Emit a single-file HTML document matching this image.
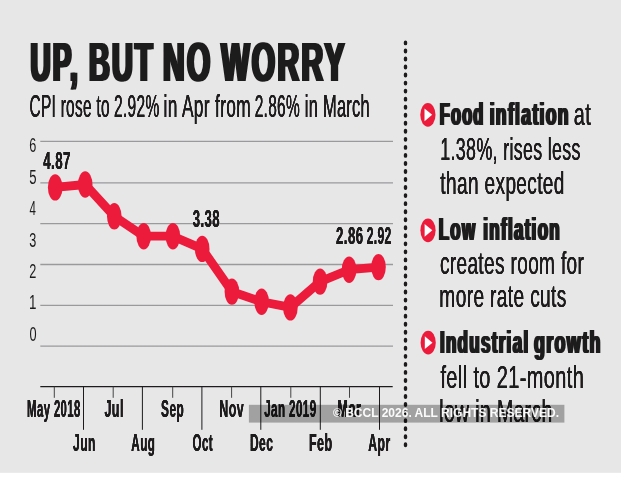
<!DOCTYPE html>
<html lang="en"><head><meta charset="utf-8"><title>Up, but no worry</title><style>html,body{margin:0;padding:0;background:#fff;}body{width:630px;height:480px;overflow:hidden;}svg{display:block;font-family:"Liberation Sans",sans-serif;}</style></head><body><svg width="630" height="480" viewBox="0 0 630 480">
<defs>
<filter id="hb15" x="-5%" y="-20%" width="110%" height="140%"><feOffset in="SourceGraphic" dx="1.5" result="a"/><feOffset in="SourceGraphic" dx="-1.5" result="b"/><feMerge><feMergeNode in="a"/><feMergeNode in="b"/><feMergeNode in="SourceGraphic"/></feMerge></filter>
<filter id="hb10" x="-5%" y="-20%" width="110%" height="140%"><feOffset in="SourceGraphic" dx="1.0" result="a"/><feOffset in="SourceGraphic" dx="-1.0" result="b"/><feMerge><feMergeNode in="a"/><feMergeNode in="b"/><feMergeNode in="SourceGraphic"/></feMerge></filter>
<filter id="hb8" x="-5%" y="-20%" width="110%" height="140%"><feOffset in="SourceGraphic" dx="0.8" result="a"/><feOffset in="SourceGraphic" dx="-0.8" result="b"/><feMerge><feMergeNode in="a"/><feMergeNode in="b"/><feMergeNode in="SourceGraphic"/></feMerge></filter>
<filter id="hb5" x="-5%" y="-20%" width="110%" height="140%"><feOffset in="SourceGraphic" dx="0.5" result="a"/><feOffset in="SourceGraphic" dx="-0.5" result="b"/><feMerge><feMergeNode in="a"/><feMergeNode in="b"/><feMergeNode in="SourceGraphic"/></feMerge></filter>
<filter id="hb4" x="-5%" y="-20%" width="110%" height="140%"><feOffset in="SourceGraphic" dx="0.25" result="a"/><feOffset in="SourceGraphic" dx="-0.25" result="b"/><feMerge><feMergeNode in="a"/><feMergeNode in="b"/><feMergeNode in="SourceGraphic"/></feMerge></filter>
<filter id="hb2" x="-5%" y="-20%" width="110%" height="140%"><feOffset in="SourceGraphic" dx="0.2" result="a"/><feOffset in="SourceGraphic" dx="-0.2" result="b"/><feMerge><feMergeNode in="a"/><feMergeNode in="b"/><feMergeNode in="SourceGraphic"/></feMerge></filter>
<filter id="hb3" x="-5%" y="-20%" width="110%" height="140%"><feOffset in="SourceGraphic" dx="0.3" result="a"/><feOffset in="SourceGraphic" dx="-0.3" result="b"/><feMerge><feMergeNode in="a"/><feMergeNode in="b"/><feMergeNode in="SourceGraphic"/></feMerge></filter>
</defs>
<rect x="0" y="0" width="630" height="480" fill="#fff"/>
<rect x="0" y="0" width="621" height="472.8" fill="#e7e7e8"/>
<line x1="40.3" y1="141.3" x2="393" y2="141.3" stroke="#9a9a9c" stroke-width="1.3"/>
<line x1="40.3" y1="182.8" x2="393" y2="182.8" stroke="#9a9a9c" stroke-width="1.3"/>
<line x1="40.3" y1="223.6" x2="393" y2="223.6" stroke="#9a9a9c" stroke-width="1.3"/>
<line x1="40.3" y1="264.5" x2="393" y2="264.5" stroke="#9a9a9c" stroke-width="1.3"/>
<line x1="40.3" y1="305.4" x2="393" y2="305.4" stroke="#9a9a9c" stroke-width="1.3"/>
<line x1="40.3" y1="346.2" x2="393" y2="346.2" stroke="#9a9a9c" stroke-width="1.3"/>
<line x1="40.3" y1="386.7" x2="392.7" y2="386.7" stroke="#1d1b1c" stroke-width="1.3"/>
<line x1="54.3" y1="386.7" x2="54.3" y2="397.8" stroke="#444" stroke-width="1"/>
<line x1="83.5" y1="386.7" x2="83.5" y2="429.8" stroke="#1d1b1c" stroke-width="1"/>
<line x1="113.2" y1="386.7" x2="113.2" y2="397.8" stroke="#444" stroke-width="1"/>
<line x1="142.4" y1="386.7" x2="142.4" y2="429.8" stroke="#1d1b1c" stroke-width="1"/>
<line x1="172.7" y1="386.7" x2="172.7" y2="397.8" stroke="#444" stroke-width="1"/>
<line x1="201.9" y1="386.7" x2="201.9" y2="429.8" stroke="#1d1b1c" stroke-width="1"/>
<line x1="231.6" y1="386.7" x2="231.6" y2="397.8" stroke="#444" stroke-width="1"/>
<line x1="260.8" y1="386.7" x2="260.8" y2="429.8" stroke="#1d1b1c" stroke-width="1"/>
<line x1="290.8" y1="386.7" x2="290.8" y2="397.8" stroke="#444" stroke-width="1"/>
<line x1="320.3" y1="386.7" x2="320.3" y2="429.8" stroke="#1d1b1c" stroke-width="1"/>
<line x1="349.5" y1="386.7" x2="349.5" y2="397.8" stroke="#444" stroke-width="1"/>
<line x1="379.5" y1="386.7" x2="379.5" y2="429.8" stroke="#1d1b1c" stroke-width="1"/>
<path d="M55.2,187.4 L85.2,184.5 L114.3,216.3 L143.7,236.2 L172.9,236.2 L202.2,248.9 L231.9,291.6 L261.6,301.7 L290.4,307.4 L320.1,281.6 L349.1,269.7 L378.5,267.1" fill="none" stroke="#ed1b3b" stroke-width="8.8" stroke-linejoin="round" stroke-linecap="round"/>
<ellipse cx="55.2" cy="187.4" rx="7.3" ry="13.2" fill="#ed1b3b"/>
<ellipse cx="85.2" cy="184.5" rx="7.3" ry="13.2" fill="#ed1b3b"/>
<ellipse cx="114.3" cy="216.3" rx="7.3" ry="13.2" fill="#ed1b3b"/>
<ellipse cx="143.7" cy="236.2" rx="7.3" ry="13.2" fill="#ed1b3b"/>
<ellipse cx="172.9" cy="236.2" rx="7.3" ry="13.2" fill="#ed1b3b"/>
<ellipse cx="202.2" cy="248.9" rx="7.3" ry="13.2" fill="#ed1b3b"/>
<ellipse cx="231.9" cy="291.6" rx="7.3" ry="13.2" fill="#ed1b3b"/>
<ellipse cx="261.6" cy="301.7" rx="7.3" ry="13.2" fill="#ed1b3b"/>
<ellipse cx="290.4" cy="307.4" rx="7.3" ry="13.2" fill="#ed1b3b"/>
<ellipse cx="320.1" cy="281.6" rx="7.3" ry="13.2" fill="#ed1b3b"/>
<ellipse cx="349.1" cy="269.7" rx="7.3" ry="13.2" fill="#ed1b3b"/>
<ellipse cx="378.5" cy="267.1" rx="7.3" ry="13.2" fill="#ed1b3b"/>
<line x1="405.5" y1="42.15" x2="405.5" y2="446" stroke="#1d1b1c" stroke-width="3.4" stroke-linecap="round" stroke-dasharray="1.5 6.537"/>
<ellipse cx="427.9" cy="114.8" rx="7.6" ry="11.9" fill="#ed1b3b"/><path d="M424.5,108.39999999999999 L432.2,114.8 L424.5,121.2 Z" fill="#fff"/>
<ellipse cx="428.0" cy="230.3" rx="7.6" ry="11.9" fill="#ed1b3b"/><path d="M424.6,223.9 L432.3,230.3 L424.6,236.70000000000002 Z" fill="#fff"/>
<ellipse cx="428.2" cy="342.7" rx="7.6" ry="11.9" fill="#ed1b3b"/><path d="M424.8,336.3 L432.5,342.7 L424.8,349.09999999999997 Z" fill="#fff"/>
<g opacity="0.999">
<text x="30.03" y="81.2" font-size="55.5" font-weight="bold" fill="#1d1b1c" textLength="49.48" lengthAdjust="spacingAndGlyphs" filter="url(#hb15)" letter-spacing="4.41">UP,</text>
<text x="88.49" y="81.2" font-size="55.5" font-weight="bold" fill="#1d1b1c" textLength="65.95" lengthAdjust="spacingAndGlyphs" filter="url(#hb15)" letter-spacing="4.41">BUT</text>
<text x="162.46" y="81.2" font-size="55.5" font-weight="bold" fill="#1d1b1c" textLength="49.51" lengthAdjust="spacingAndGlyphs" filter="url(#hb15)" letter-spacing="4.41">NO</text>
<text x="220.68" y="81.2" font-size="55.5" font-weight="bold" fill="#1d1b1c" textLength="125.68" lengthAdjust="spacingAndGlyphs" filter="url(#hb15)" letter-spacing="4.41">WORRY</text>
<text x="29.52" y="117.2" font-size="31.2" font-weight="normal" fill="#1d1b1c" textLength="80.34" lengthAdjust="spacingAndGlyphs" filter="url(#hb2)" letter-spacing="0.59">CPI rose to</text>
<text x="114.06" y="117.2" font-size="31.2" font-weight="normal" fill="#1d1b1c" textLength="45.41" lengthAdjust="spacingAndGlyphs" filter="url(#hb2)" letter-spacing="0.59">2.92%</text>
<text x="163.62" y="117.2" font-size="31.2" font-weight="normal" fill="#1d1b1c" textLength="87.43" lengthAdjust="spacingAndGlyphs" filter="url(#hb2)" letter-spacing="0.59">in Apr from</text>
<text x="254.73" y="117.2" font-size="31.2" font-weight="normal" fill="#1d1b1c" textLength="45.33" lengthAdjust="spacingAndGlyphs" filter="url(#hb2)" letter-spacing="0.59">2.86%</text>
<text x="304.73" y="117.2" font-size="31.2" font-weight="normal" fill="#1d1b1c" textLength="65.27" lengthAdjust="spacingAndGlyphs" filter="url(#hb2)" letter-spacing="0.59">in March</text>
<text x="29.13" y="152.2" font-size="20" font-weight="normal" fill="#1d1b1c" textLength="7.04" lengthAdjust="spacingAndGlyphs">6</text>
<text x="29.23" y="183.6" font-size="20" font-weight="normal" fill="#1d1b1c" textLength="7.31" lengthAdjust="spacingAndGlyphs">5</text>
<text x="29.59" y="215" font-size="20" font-weight="normal" fill="#1d1b1c" textLength="6.40" lengthAdjust="spacingAndGlyphs">4</text>
<text x="29.19" y="246.5" font-size="20" font-weight="normal" fill="#1d1b1c" textLength="7.02" lengthAdjust="spacingAndGlyphs">3</text>
<text x="29.17" y="277.9" font-size="20" font-weight="normal" fill="#1d1b1c" textLength="7.06" lengthAdjust="spacingAndGlyphs">2</text>
<text x="28.88" y="309.4" font-size="20" font-weight="normal" fill="#1d1b1c" textLength="7.43" lengthAdjust="spacingAndGlyphs">1</text>
<text x="29.43" y="340.8" font-size="20" font-weight="normal" fill="#1d1b1c" textLength="7.08" lengthAdjust="spacingAndGlyphs">0</text>
<text x="27.12" y="416.9" font-size="23.6" font-weight="bold" fill="#1d1b1c" textLength="53.61" lengthAdjust="spacingAndGlyphs" filter="url(#hb3)" letter-spacing="0.88">May 2018</text>
<text x="104.45" y="416.9" font-size="23.6" font-weight="bold" fill="#1d1b1c" textLength="19.39" lengthAdjust="spacingAndGlyphs" filter="url(#hb3)" letter-spacing="0.88">Jul</text>
<text x="161.04" y="416.9" font-size="23.6" font-weight="bold" fill="#1d1b1c" textLength="23.06" lengthAdjust="spacingAndGlyphs" filter="url(#hb3)" letter-spacing="0.88">Sep</text>
<text x="219.30" y="416.9" font-size="23.6" font-weight="bold" fill="#1d1b1c" textLength="24.79" lengthAdjust="spacingAndGlyphs" filter="url(#hb3)" letter-spacing="0.88">Nov</text>
<text x="264.18" y="416.9" font-size="23.6" font-weight="bold" fill="#1d1b1c" textLength="52.39" lengthAdjust="spacingAndGlyphs" filter="url(#hb3)" letter-spacing="0.88">Jan 2019</text>
<text x="337.37" y="416.9" font-size="23.6" font-weight="bold" fill="#1d1b1c" textLength="24.08" lengthAdjust="spacingAndGlyphs" filter="url(#hb3)" letter-spacing="0.88">Mar</text>
<text x="73.00" y="451.2" font-size="23.4" font-weight="bold" fill="#1d1b1c" textLength="22.74" lengthAdjust="spacingAndGlyphs" filter="url(#hb3)" letter-spacing="0.88">Jun</text>
<text x="131.33" y="451.2" font-size="23.4" font-weight="bold" fill="#1d1b1c" textLength="24.00" lengthAdjust="spacingAndGlyphs" filter="url(#hb3)" letter-spacing="0.88">Aug</text>
<text x="192.50" y="451.2" font-size="23.4" font-weight="bold" fill="#1d1b1c" textLength="20.59" lengthAdjust="spacingAndGlyphs" filter="url(#hb3)" letter-spacing="0.88">Oct</text>
<text x="249.96" y="451.2" font-size="23.4" font-weight="bold" fill="#1d1b1c" textLength="23.47" lengthAdjust="spacingAndGlyphs" filter="url(#hb3)" letter-spacing="0.88">Dec</text>
<text x="308.88" y="451.2" font-size="23.4" font-weight="bold" fill="#1d1b1c" textLength="23.67" lengthAdjust="spacingAndGlyphs" filter="url(#hb3)" letter-spacing="0.88">Feb</text>
<text x="368.24" y="451.2" font-size="23.4" font-weight="bold" fill="#1d1b1c" textLength="22.41" lengthAdjust="spacingAndGlyphs" filter="url(#hb3)" letter-spacing="0.88">Apr</text>
<text x="43.21" y="168.8" font-size="23.3" font-weight="bold" fill="#1d1b1c" textLength="27.60" lengthAdjust="spacingAndGlyphs" filter="url(#hb4)" letter-spacing="0.74">4.87</text>
<text x="192.80" y="227.2" font-size="23.3" font-weight="bold" fill="#1d1b1c" textLength="27.20" lengthAdjust="spacingAndGlyphs" filter="url(#hb4)" letter-spacing="0.74">3.38</text>
<text x="336.09" y="244.0" font-size="23.3" font-weight="bold" fill="#1d1b1c" textLength="27.37" lengthAdjust="spacingAndGlyphs" filter="url(#hb4)" letter-spacing="0.74">2.86</text>
<text x="366.68" y="244.0" font-size="23.3" font-weight="bold" fill="#1d1b1c" textLength="25.05" lengthAdjust="spacingAndGlyphs" filter="url(#hb4)" letter-spacing="0.74">2.92</text>
<text x="439.66" y="125.2" font-size="31.2" font-weight="bold" fill="#1d1b1c" textLength="44.94" lengthAdjust="spacingAndGlyphs" filter="url(#hb8)" letter-spacing="2.35">Food</text>
<text x="489.64" y="125.2" font-size="31.2" font-weight="bold" fill="#1d1b1c" textLength="80.27" lengthAdjust="spacingAndGlyphs" filter="url(#hb8)" letter-spacing="2.35">inflation</text>
<text x="573.84" y="125.2" font-size="31.2" font-weight="normal" fill="#1d1b1c" textLength="17.29" lengthAdjust="spacingAndGlyphs" filter="url(#hb2)" letter-spacing="0.59">at</text>
<text x="440.34" y="159.5" font-size="31.2" font-weight="normal" fill="#1d1b1c" textLength="140.47" lengthAdjust="spacingAndGlyphs" filter="url(#hb2)" letter-spacing="0.59">1.38%, rises less</text>
<text x="440.37" y="193.7" font-size="31.2" font-weight="normal" fill="#1d1b1c" textLength="124.42" lengthAdjust="spacingAndGlyphs" filter="url(#hb2)" letter-spacing="0.59">than expected</text>
<text x="438.74" y="239.6" font-size="31.2" font-weight="bold" fill="#1d1b1c" textLength="37.59" lengthAdjust="spacingAndGlyphs" filter="url(#hb8)" letter-spacing="2.35">Low</text>
<text x="483.22" y="239.6" font-size="31.2" font-weight="bold" fill="#1d1b1c" textLength="77.80" lengthAdjust="spacingAndGlyphs" filter="url(#hb8)" letter-spacing="2.35">inflation</text>
<text x="439.90" y="273.5" font-size="31.2" font-weight="normal" fill="#1d1b1c" textLength="144.36" lengthAdjust="spacingAndGlyphs" filter="url(#hb2)" letter-spacing="0.59">creates room for</text>
<text x="439.36" y="306.7" font-size="31.2" font-weight="normal" fill="#1d1b1c" textLength="127.30" lengthAdjust="spacingAndGlyphs" filter="url(#hb2)" letter-spacing="0.59">more rate cuts</text>
<text x="439.88" y="353.0" font-size="31.2" font-weight="bold" fill="#1d1b1c" textLength="89.53" lengthAdjust="spacingAndGlyphs" filter="url(#hb8)" letter-spacing="2.35">Industrial</text>
<text x="533.89" y="353.0" font-size="31.2" font-weight="bold" fill="#1d1b1c" textLength="67.95" lengthAdjust="spacingAndGlyphs" filter="url(#hb8)" letter-spacing="2.35">growth</text>
<text x="440.41" y="388.2" font-size="31.2" font-weight="normal" fill="#1d1b1c" textLength="143.74" lengthAdjust="spacingAndGlyphs" filter="url(#hb2)" letter-spacing="0.59">fell to 21-month</text>
<text x="439.27" y="422" font-size="31.2" font-weight="normal" fill="#1d1b1c" textLength="113.45" lengthAdjust="spacingAndGlyphs" filter="url(#hb2)" letter-spacing="0.59">low in March</text>
</g>
<rect x="248.9" y="404.8" width="315.5" height="17.8" fill="#000" fill-opacity="0.3"/>
<text x="333" y="416.5" font-size="12" font-weight="bold" fill="#fff" fill-opacity="0.95" textLength="226" lengthAdjust="spacingAndGlyphs">© BCCL 2026. ALL RIGHTS RESERVED.</text>
</svg></body></html>
